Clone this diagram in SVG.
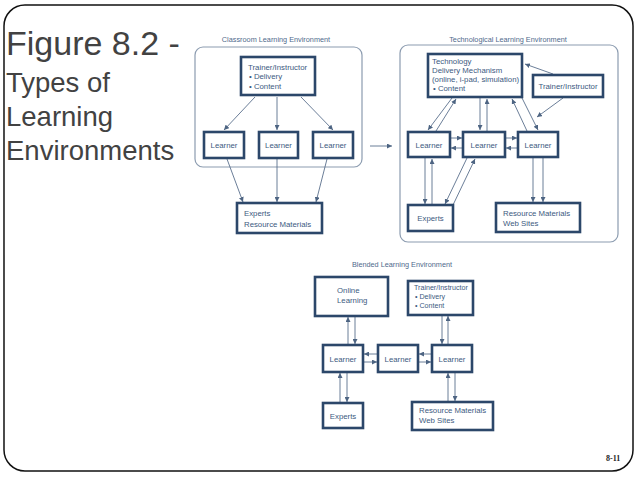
<svg xmlns="http://www.w3.org/2000/svg" width="638" height="479" viewBox="0 0 638 479">
<defs>
<marker id="ah" viewBox="0 0 6 6" refX="6" refY="3" markerWidth="5" markerHeight="5" markerUnits="userSpaceOnUse" orient="auto">
<path d="M0,0 L6,3 L0,6 z" fill="#4d6482"/>
</marker>
<style>
.frame{fill:#fff;stroke:#111;stroke-width:1.5}
.title{font-family:"Liberation Sans",Arial,sans-serif;fill:#424242}
.env{fill:none;stroke:#8c9cb0;stroke-width:1.2}
.envlbl{font-family:"Liberation Sans",Arial,sans-serif;font-size:7.3px;fill:#4f6a8c;text-anchor:middle}
.box{fill:#fff;stroke:#2c476a;stroke-width:2.6}
.t{font-family:"Liberation Sans",Arial,sans-serif;font-size:7.8px;fill:#3d5a80}
.s{font-size:7.1px}
.c{text-anchor:middle}
.a{stroke:#5a6f8c;stroke-width:0.9;fill:none;marker-end:url(#ah)}
.pg{font-family:"Liberation Serif","Times New Roman",serif;font-size:8px;font-weight:bold;fill:#222}
</style>
</defs>
<rect class="frame" x="4" y="5" width="629" height="466" rx="21"/>
<g id="title">
<text class="title" x="6" y="55" font-size="34">Figure 8.2 -</text>
<text class="title" x="6" y="92" font-size="27.5">Types of</text>
<text class="title" x="6" y="126" font-size="27.5">Learning</text>
<text class="title" x="6" y="160" font-size="27.5">Environments</text>
</g>
<text class="pg" x="606" y="461">8-11</text>

<g id="classroom-env">
<rect class="env" x="195" y="47" width="167" height="120" rx="8"/>
<text class="envlbl" x="276" y="42">Classroom Learning Environment</text>
</g>
<g id="tech-env">
<rect class="env" x="400" y="45" width="218" height="197" rx="8"/>
<text class="envlbl" x="508" y="42">Technological Learning Environment</text>
</g>
<text class="envlbl" x="402" y="267" id="blended-label">Blended Learning Environment</text>

<g id="connectors">
<line class="a" x1="255" y1="97" x2="224" y2="130"/>
<line class="a" x1="277" y1="97" x2="277" y2="130"/>
<line class="a" x1="301" y1="97" x2="333" y2="130"/>
<line class="a" x1="227" y1="159" x2="243" y2="202"/>
<line class="a" x1="277" y1="159" x2="277" y2="202"/>
<line class="a" x1="327" y1="159" x2="316" y2="202"/>
<line class="a" x1="370" y1="146" x2="392" y2="146"/>
<line class="a" x1="452" y1="98" x2="428" y2="130"/>
<line class="a" x1="436" y1="131" x2="456" y2="99"/>
<line class="a" x1="480" y1="98" x2="480" y2="130"/>
<line class="a" x1="487" y1="131" x2="487" y2="99"/>
<line class="a" x1="527" y1="131" x2="512" y2="99"/>
<line class="a" x1="522" y1="98" x2="538" y2="130"/>
<line class="a" x1="553" y1="74" x2="525" y2="64"/>
<line class="a" x1="563" y1="98" x2="537" y2="117"/>
<line class="a" x1="451" y1="138" x2="462" y2="138"/>
<line class="a" x1="462" y1="148" x2="451" y2="148"/>
<line class="a" x1="506" y1="138" x2="517" y2="138"/>
<line class="a" x1="517" y1="148" x2="506" y2="148"/>
<line class="a" x1="425" y1="158" x2="425" y2="204"/>
<line class="a" x1="432" y1="205" x2="432" y2="159"/>
<line class="a" x1="467" y1="158" x2="445" y2="204"/>
<line class="a" x1="453" y1="205" x2="475" y2="159"/>
<line class="a" x1="533" y1="158" x2="533" y2="202"/>
<line class="a" x1="543" y1="158" x2="543" y2="202"/>
<line class="a" x1="348" y1="345" x2="348" y2="317"/>
<line class="a" x1="355" y1="316" x2="355" y2="344"/>
<line class="a" x1="442" y1="316" x2="442" y2="344"/>
<line class="a" x1="448" y1="345" x2="448" y2="316"/>
<line class="a" x1="378" y1="354" x2="364" y2="354"/>
<line class="a" x1="363" y1="362" x2="377" y2="362"/>
<line class="a" x1="432" y1="354" x2="419" y2="354"/>
<line class="a" x1="418" y1="362" x2="431" y2="362"/>
<line class="a" x1="340" y1="403" x2="340" y2="373"/>
<line class="a" x1="347" y1="373" x2="347" y2="402"/>
<line class="a" x1="448" y1="402" x2="448" y2="373"/>
<line class="a" x1="455" y1="373" x2="455" y2="401"/>
</g>

<g id="c-trainer">
<rect class="box" x="241" y="57" width="74" height="38"/>
<text class="t" x="248" y="70">Trainer/Instructor</text>
<text class="t" x="249" y="79">•  Delivery</text>
<text class="t" x="249" y="89">•  Content</text>
</g>
<g id="c-learner1"><rect class="box" x="204" y="132" width="40" height="26"/><text class="t c" x="224" y="148">Learner</text></g>
<g id="c-learner2"><rect class="box" x="259" y="132" width="39" height="26"/><text class="t c" x="278.5" y="148">Learner</text></g>
<g id="c-learner3"><rect class="box" x="313" y="132" width="40" height="26"/><text class="t c" x="333" y="148">Learner</text></g>
<g id="c-experts">
<rect class="box" x="237" y="203" width="85" height="30"/>
<text class="t" x="244" y="216">Experts</text>
<text class="t" x="244" y="227">Resource Materials</text>
</g>

<g id="t-tech">
<rect class="box" x="428" y="54" width="94" height="43"/>
<text class="t" x="432" y="64">Technology</text>
<text class="t" x="432" y="73">Delivery Mechanism</text>
<text class="t" x="432" y="82">(online, i-pad, simulation)</text>
<text class="t" x="433" y="91">•  Content</text>
</g>
<g id="t-trainer"><rect class="box" x="533" y="75" width="70" height="22"/><text class="t c" x="568" y="89">Trainer/Instructor</text></g>
<g id="t-learner1"><rect class="box" x="408" y="132" width="42" height="25"/><text class="t c" x="429" y="147.5">Learner</text></g>
<g id="t-learner2"><rect class="box" x="463" y="132" width="42" height="25"/><text class="t c" x="484" y="147.5">Learner</text></g>
<g id="t-learner3"><rect class="box" x="518" y="132" width="40" height="25"/><text class="t c" x="538" y="147.5">Learner</text></g>
<g id="t-experts"><rect class="box" x="408" y="205" width="45" height="26"/><text class="t c" x="430.5" y="221">Experts</text></g>
<g id="t-resource">
<rect class="box" x="496" y="203" width="84" height="29"/>
<text class="t" x="503" y="216">Resource Materials</text>
<text class="t" x="503" y="226">Web Sites</text>
</g>

<g id="b-online">
<rect class="box" x="315" y="277" width="73" height="39"/>
<text class="t" x="337" y="293">Online</text>
<text class="t" x="337" y="303">Learning</text>
</g>
<g id="b-trainer">
<rect class="box" x="408" y="281" width="65" height="34"/>
<text class="t s" x="414" y="290">Trainer/Instructor</text>
<text class="t s" x="415" y="299">•  Delivery</text>
<text class="t s" x="415" y="308">•  Content</text>
</g>
<g id="b-learner1"><rect class="box" x="323" y="345" width="40" height="27"/><text class="t c" x="343" y="361.5">Learner</text></g>
<g id="b-learner2"><rect class="box" x="378" y="345" width="40" height="27"/><text class="t c" x="398" y="361.5">Learner</text></g>
<g id="b-learner3"><rect class="box" x="432" y="345" width="40" height="27"/><text class="t c" x="452" y="361.5">Learner</text></g>
<g id="b-experts"><rect class="box" x="323" y="403" width="40" height="25"/><text class="t c" x="343" y="418.5">Experts</text></g>
<g id="b-resource">
<rect class="box" x="412" y="402" width="81" height="28"/>
<text class="t" x="419" y="413">Resource Materials</text>
<text class="t" x="419" y="423">Web Sites</text>
</g>
</svg>
